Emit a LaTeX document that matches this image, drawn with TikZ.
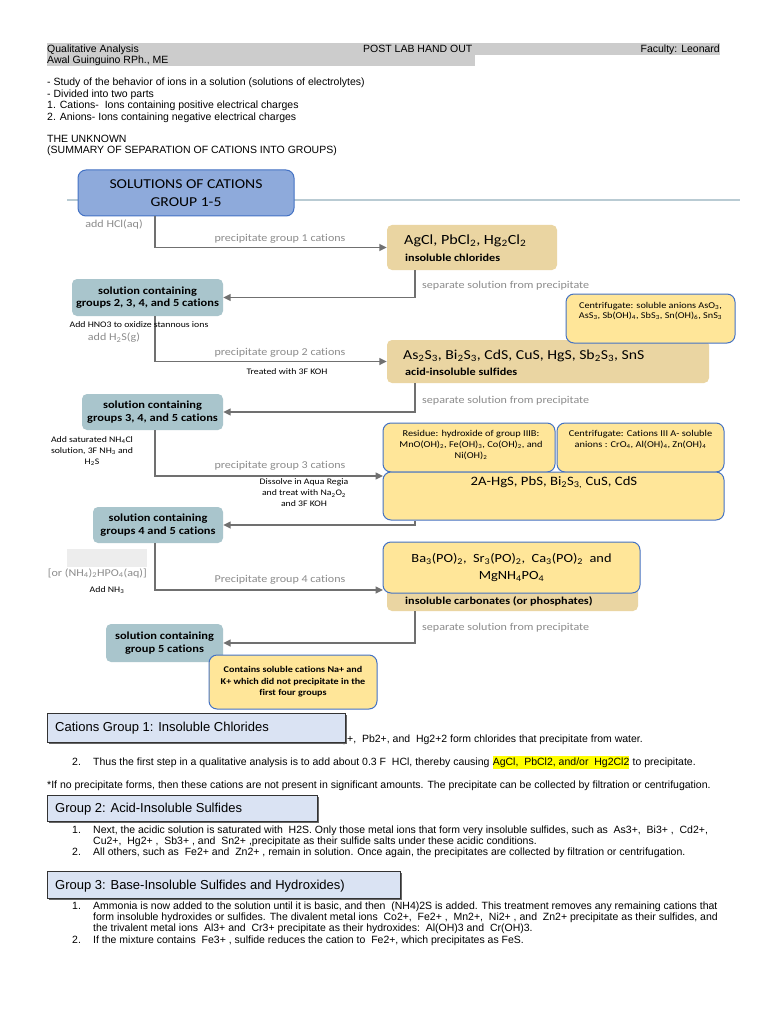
\documentclass[tikz,border=0pt]{standalone}
\usepackage{fontspec}
\setmainfont{Liberation Sans}
\newfontfamily\flowfont[FakeStretch=1.15,Ligatures=NoCommon]{Carlito}
\usetikzlibrary{arrows.meta,calc}
\definecolor{hdrgray}{HTML}{CCCCCC}
\definecolor{conngray}{HTML}{707070}
\definecolor{labgray}{HTML}{8C8C8C}
\definecolor{solblue}{HTML}{8EAADB}
\definecolor{bdrblue}{HTML}{4472C4}
\definecolor{solteal}{HTML}{A9C5CC}
\definecolor{tanfill}{HTML}{EAD5A2}
\definecolor{ylw}{HTML}{FFE699}
\definecolor{hline}{HTML}{B9CBD3}
\definecolor{lbfill}{HTML}{DAE3F3}
\definecolor{hilite}{HTML}{FFFF00}
\tikzset{
  conn/.style={draw=conngray, line width=1.5pt, -{Triangle[length=7.5pt,width=7pt]}},
  gl/.style={text=labgray, font=\flowfont\fontsize{10.5}{12}\selectfont, inner sep=0},
  sm/.style={text=black, font=\flowfont\fontsize{8.5}{11}\selectfont, inner sep=0, align=center},
  solbox/.style={fill=solteal, rounded corners=5pt, inner sep=0, align=center, font=\flowfont\bfseries\fontsize{10.8}{12.5}\selectfont},
  tanbox/.style={fill=tanfill, rounded corners=5pt, inner sep=0},
  ylbox/.style={fill=ylw, draw=bdrblue, line width=1pt, rounded corners=8pt, inner sep=0, align=center},
  big/.style={text=black, font=\flowfont\fontsize{14}{16}\selectfont, inner sep=0},
  bl/.style={text=black, font=\flowfont\bfseries\fontsize{10.6}{12}\selectfont, inner sep=0},
  lt/.style={text=black, font=\fontsize{10.5}{12}\selectfont, inner sep=0, anchor=base west},
  lbox/.style={fill=lbfill, draw=black!80, line width=0.8pt, inner sep=0},
  lbt/.style={text=black, font=\fontsize{13}{15}\selectfont, inner sep=0, anchor=base west},
}
\begin{document}
\begin{tikzpicture}[x=1pt,y=-1pt]
\useasboundingbox (0,0) rectangle (768,1024);
\fill[white] (0,0) rectangle (768,1024);
% header
\fill[hdrgray] (47,43) rectangle (720,55);
\fill[hdrgray] (47,55) rectangle (475,66);
\node[lt] (h1) at (47,53) {Qualitative Analysis};
\node[lt] (h2) at (363,53) {POST LAB HAND OUT};
\node[lt, anchor=base east] (h3) at (720,53) {Faculty: Leonard};
\node[lt] (h4) at (47,64) {Awal Guinguino RPh., ME};
\node[lt] (p1) at (47,86) {- Study of the behavior of ions in a solution (solutions of electrolytes)};
\node[lt] (p2) at (47,98) {- Divided into two parts};
\node[lt] (p3) at (47,109) {1. Cations-\ \ Ions containing positive electrical charges};
\node[lt] (p4) at (47,121) {2. Anions- Ions containing negative electrical charges};
\node[lt] (p5) at (47,143) {THE UNKNOWN};
\node[lt] (p6) at (47,154) {(SUMMARY OF SEPARATION OF CATIONS INTO GROUPS)};

% flowchart
\draw[hline, line width=2pt] (67,200) -- (740,200);
\coordinate (c1) at (155,0);
\coordinate (c2) at (415,0);

\node[fill=solblue, draw=bdrblue, line width=1pt, rounded corners=8pt, minimum width=216pt, minimum height=46pt, inner sep=0, align=center, font=\flowfont\fontsize{13.6}{18.5}\selectfont] (sol) at (186,193) {SOLUTIONS OF CATIONS\\GROUP 1-5};
\node[gl] (hcl) at (114,225) {add HCl(aq)};

\node[tanbox, minimum width=170pt, minimum height=45pt] (agcl) at (472,247.5) {};
\node[big, anchor=west] (agclt) at (404,241) {AgCl, PbCl\textsubscript{2}, Hg\textsubscript{2}Cl\textsubscript{2}};
\node[bl, anchor=west] (agcls) at (405,258) {insoluble chlorides};

\draw[conn] (sol.south -| c1) |- (agcl.west);
\node[gl] (l1) at (280,239) {precipitate group 1 cations};

\node[solbox, minimum width=151pt, minimum height=37pt] (sol2) at (147.5,297.5) {solution containing\\groups 2, 3, 4, and 5 cations};
\draw[conn] (agcl.south -| c2) |- (sol2.east);
\node[gl, anchor=west] (s1) at (422,286) {separate solution from precipitate};

\node[tanbox, minimum width=322pt, minimum height=43pt] (as) at (548,361.5) {};
\node[big, anchor=west, font=\flowfont\fontsize{13.7}{16}\selectfont] (ast) at (403,356) {As\textsubscript{2}S\textsubscript{3}, Bi\textsubscript{2}S\textsubscript{3}, CdS, CuS, HgS, Sb\textsubscript{2}S\textsubscript{3}, SnS};
\node[bl, anchor=west] (ass) at (405,372) {acid-insoluble sulfides};
\node[ylbox, minimum width=169pt, minimum height=49pt, font=\flowfont\fontsize{8.9}{10.5}\selectfont] (cent1) at (650.5,318.5) {Centrifugate: soluble anions AsO\textsubscript{3},\\AsS\textsubscript{3}, Sb(OH)\textsubscript{4}, SbS\textsubscript{3}, Sn(OH)\textsubscript{6}, SnS\textsubscript{3}\\[6pt]};

\draw[conn] (sol2.south -| c1) |- (as.west);
\node[sm] (hno3) at (139,325) {Add HNO3 to oxidize stannous ions};
\node[gl] (h2s) at (114,338) {add H\textsubscript{2}S(g)};
\node[gl] (l2) at (280,353) {precipitate group 2 cations};
\node[sm] (koh) at (287,372) {Treated with 3F KOH};

\node[solbox, minimum width=141pt, minimum height=36pt] (sol3) at (152.5,412) {solution containing\\groups 3, 4, and 5 cations};
\draw[conn] (as.south -| c2) |- (sol3.east);
\node[gl, anchor=west] (s2) at (422,401) {separate solution from precipitate};

\node[ylbox, minimum width=172pt, minimum height=49pt] (res) at (469,447.5) {};
\node[sm, font=\flowfont\fontsize{9}{11}\selectfont] (rest) at (471,445) {Residue: hydroxide of group IIIB:\\MnO(OH)\textsubscript{2}, Fe(OH)\textsubscript{3}, Co(OH)\textsubscript{2}, and\\Ni(OH)\textsubscript{2}};
\node[ylbox, minimum width=167pt, minimum height=49pt] (cent2) at (640.5,447.5) {};
\node[sm, font=\flowfont\fontsize{9}{11}\selectfont] (cent2t) at (640.5,439.5) {Centrifugate: Cations III A- soluble\\anions : CrO\textsubscript{4}, Al(OH)\textsubscript{4}, Zn(OH)\textsubscript{4}};
\node[ylbox, minimum width=341pt, minimum height=48pt] (big3) at (553.5,496) {};
\node[text=black, font=\flowfont\fontsize{12.8}{15}\selectfont, inner sep=0] (big3t) at (554,483) {2A-HgS, PbS, Bi\textsubscript{2}S\textsubscript{3,} CuS, CdS};

\coordinate (a3) at (383,476);
\draw[conn] (sol3.south -| c1) |- (a3);
\node[gl] (l3) at (280,466) {precipitate group 3 cations};
\node[sm, fill=white, inner xsep=3pt, inner ysep=1pt] (aqua) at (304,493) {Dissolve in Aqua Regia\\and treat with Na\textsubscript{2}O\textsubscript{2}\\and 3F KOH};
\node[sm] (nh4cl) at (92,451) {Add saturated NH\textsubscript{4}Cl\\solution, 3F NH\textsubscript{3} and\\H\textsubscript{2}S};

\node[solbox, minimum width=130pt, minimum height=36pt] (sol4) at (158,525) {solution containing\\groups 4 and 5 cations};
\draw[conn] (big3.south -| c2) |- (sol4.east);

\fill[black!7] (67,549) rectangle (147,567);
\node[gl, anchor=east] (hpo) at (147,573) {[or (NH\textsubscript{4})\textsubscript{2}HPO\textsubscript{4}(aq)]};
\node[sm] (nh3) at (107,590) {Add NH\textsubscript{3}};

\node[tanbox, minimum width=251pt, minimum height=51pt] (tan4) at (512.5,585.5) {};
\node[ylbox, minimum width=257pt, minimum height=51pt, font=\flowfont\fontsize{12.5}{17}\selectfont] (ba) at (511.5,567.5) {Ba\textsubscript{3}(PO)\textsubscript{2},\ \ Sr\textsubscript{3}(PO)\textsubscript{2},\ \ Ca\textsubscript{3}(PO)\textsubscript{2}\ \ and\\MgNH\textsubscript{4}PO\textsubscript{4}};
\node[bl, anchor=west] (bas) at (405,601) {insoluble carbonates (or phosphates)};
\coordinate (a4) at (383,590);
\draw[conn] (sol4.south -| c1) |- (a4);
\node[gl] (l4) at (280,580) {Precipitate group 4 cations};

\node[solbox, minimum width=117pt, minimum height=38pt] (sol5) at (164.5,643) {solution containing\\group 5 cations};
\draw[conn] (tan4.south -| c2) |- (sol5.east);
\node[gl, anchor=west] (s3) at (422,628) {separate solution from precipitate};

\node[ylbox, minimum width=168pt, minimum height=54pt, font=\flowfont\bfseries\fontsize{8.8}{11.5}\selectfont] (cont) at (293,682) {Contains soluble cations Na+ and\\K+ which did not precipitate in the\\first four groups};

% lower text
\node[lt, anchor=base east] (g1a) at (643,742) {Ag+,\ \ Pb2+, and\ \ Hg2+2 form chlorides that precipitate from water.};
\fill[black!60] (48.5,714.5) rectangle (346.5,743.5);
\node[lbox, minimum width=298pt, minimum height=29pt] (lb1) at (196,727.5) {};
\node[lbt] (lb1t) at (55,731.5) {Cations Group 1: Insoluble Chlorides};
\node[lt] (g1n2) at (72,765) {2.};
\node[lt] (g1b) at (93,765) {Thus the first step in a qualitative analysis is to add about 0.3 F\ \ HCl, thereby causing\ \ };
\node[lt, fill=hilite, inner ysep=1.5pt] (g1c) at (g1b.base east) {AgCl,\ \ PbCl2, and/or\ \ Hg2Cl2};
\node[lt] (g1d) at (g1c.base east) {\ to precipitate.};
\node[lt] (g1e) at (47,788) {*If no precipitate forms, then these cations are not present in significant amounts. The precipitate can be collected by filtration or centrifugation.};

\fill[black!60] (48.5,796.5) rectangle (318.5,822.5);
\node[lbox, minimum width=270pt, minimum height=26pt] (lb2) at (182,808) {};
\node[lbt] (lb2t) at (55,812.5) {Group 2: Acid-Insoluble Sulfides};
\node[lt] (g2n1) at (72,833) {1.};
\node[lt] (g2a) at (93,833) {Next, the acidic solution is saturated with\ \ H2S. Only those metal ions that form very insoluble sulfides, such as\ \ As3+,\ \ Bi3+ ,\ \ Cd2+,};
\node[lt] (g2b) at (93,844) {Cu2+,\ \ Hg2+ ,\ \ Sb3+ , and\ \ Sn2+ ,precipitate as their sulfide salts under these acidic conditions.};
\node[lt] (g2n2) at (72,855) {2.};
\node[lt] (g2c) at (93,855) {All others, such as\ \ Fe2+ and\ \ Zn2+ , remain in solution. Once again, the precipitates are collected by filtration or centrifugation.};

\fill[black!60] (48.5,872.5) rectangle (401.5,899.5);
\node[lbox, minimum width=353pt, minimum height=27pt] (lb3) at (223.5,884.5) {};
\node[lbt] (lb3t) at (55,889) {Group 3: Base-Insoluble Sulfides and Hydroxides)};
\node[lt] (g3n1) at (72,909) {1.};
\node[lt] (g3a) at (93,909) {Ammonia is now added to the solution until it is basic, and then\ \ (NH4)2S is added. This treatment removes any remaining cations that};
\node[lt] (g3b) at (93,920) {form insoluble hydroxides or sulfides. The divalent metal ions\ \ Co2+,\ \ Fe2+ ,\ \ Mn2+,\ \ Ni2+ , and\ \ Zn2+ precipitate as their sulfides, and};
\node[lt] (g3c) at (93,931) {the trivalent metal ions\ \ Al3+ and\ \ Cr3+ precipitate as their hydroxides:\ \ Al(OH)3 and\ \ Cr(OH)3.};
\node[lt] (g3n2) at (72,943) {2.};
\node[lt] (g3d) at (93,943) {If the mixture contains\ \ Fe3+ , sulfide reduces the cation to\ \ Fe2+, which precipitates as FeS.};
\end{tikzpicture}
\end{document}
